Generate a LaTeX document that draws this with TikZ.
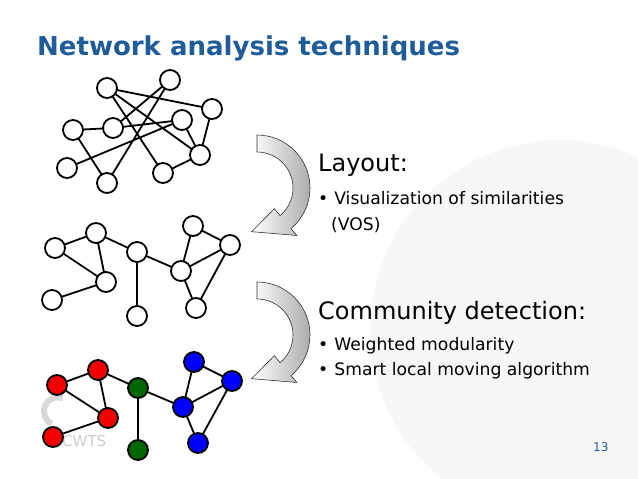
\documentclass[tikz,border=0pt]{standalone}
\usepackage{fontspec}
\setmainfont{DejaVu Sans}
\begin{document}
\begin{tikzpicture}[x=1pt,y=-1pt,
  v/.style={circle,draw=black,line width=1.8pt,minimum size=20pt,inner sep=0pt,fill=white},
  R/.style={v,fill=red!95!black},G/.style={v,fill=green!40!black},B/.style={v,fill=blue},
  e/.style={line width=1.8pt},
  carrow/.style={draw=black!80,line width=0.6pt,left color=white,right color=gray!65},
  txt/.style={anchor=base west,inner sep=0pt}]
\useasboundingbox (0,0) rectangle (638,479);
\fill[gray!6] (560,330) circle (190);
\fill[white] (330,110) circle (95);
\node[txt,font=\bfseries\fontsize{26}{30}\selectfont,text={rgb,255:red,31;green,92;blue,153}] (title) at (37,55) {Network analysis techniques};
% top graph
\foreach \n/\x/\y in {A/107/88,B/170/80,C/212/109,D/182/120,E/113/128,F/73/130,G/200/155,H/67/168,I/107/183,J/163/173}
  \coordinate (\n) at (\x,\y);
\draw[e] (A)--(C) (A)--(G) (A)--(J) (B)--(E) (B)--(I) (E)--(D) (F)--(E) (F)--(I) (H)--(D) (D)--(G) (C)--(G) (J)--(G);
\foreach \n in {A,B,C,D,E,F,G,H,I,J} \node[v] (t\n) at (\n) {};
% middle graph
\foreach \n/\x/\y in {a/55/248,b/96/233,c/137/252,d/106/282,e/52/300,f/137/316,g/193/226,h/230/245,i/181/271,j/196/308}
  \coordinate (m\n) at (\x,\y);
\draw[e] (ma)--(mb) (ma)--(md) (mb)--(md) (md)--(me) (mb)--(mc) (mc)--(mf) (mc)--(mi) (mi)--(mg) (mi)--(mh) (mg)--(mh) (mi)--(mj) (mh)--(mj);
\foreach \n in {a,b,c,d,e,f,g,h,i,j} \node[v] (n\n) at (m\n) {};
% bottom graph
\foreach \n/\x/\y in {a/57/385,b/98/370,c/138/388,d/108/418,e/53/437,f/138/450,g/194/362,h/232/381,i/183/407,j/198/443}
  \coordinate (b\n) at (\x,\y);
% logo
\draw[gray!30,line width=6pt] (52,424) arc (115:290:14);
\node[txt,font=\fontsize{15}{16}\selectfont,text=gray!40] (logo) at (62,446) {CWTS};
\draw[e] (ba)--(bb) (ba)--(bd) (bb)--(bd) (bd)--(be) (bb)--(bc) (bc)--(bf) (bc)--(bi) (bi)--(bg) (bi)--(bh) (bg)--(bh) (bi)--(bj) (bh)--(bj);
\foreach \n/\s in {a/R,b/R,d/R,e/R,c/G,f/G,g/B,h/B,i/B,j/B} \node[\s] (c\n) at (b\n) {};
% curved arrows
\foreach \cy in {188,335}{
\path[carrow,shift={(257,\cy)}] (-90:53) arc (-90:50:53) -- (50:62) -- (97:44) -- (50:27) -- (50:36) arc (50:-90:36) -- cycle;
}
% texts
\node[txt,font=\fontsize{24}{28}\selectfont] (t1) at (318,171) {Layout:};
\node[txt,font=\fontsize{17.2}{20}\selectfont] (t2) at (318,204) {•\hspace{6pt}Visualization of similarities};
\node[txt,font=\fontsize{17.2}{20}\selectfont] (t3) at (331,230) {(VOS)};
\node[txt,font=\fontsize{24}{28}\selectfont] (t4) at (318,319) {Community detection:};
\node[txt,font=\fontsize{17.2}{20}\selectfont] (t5) at (318,350) {•\hspace{6pt}Weighted modularity};
\node[txt,font=\fontsize{17.2}{20}\selectfont] (t6) at (318,375) {•\hspace{6pt}Smart local moving algorithm};
\node[txt,font=\fontsize{12}{14}\selectfont,text={rgb,255:red,31;green,92;blue,153}] (pg) at (593,451) {13};
\end{tikzpicture}
\end{document}
